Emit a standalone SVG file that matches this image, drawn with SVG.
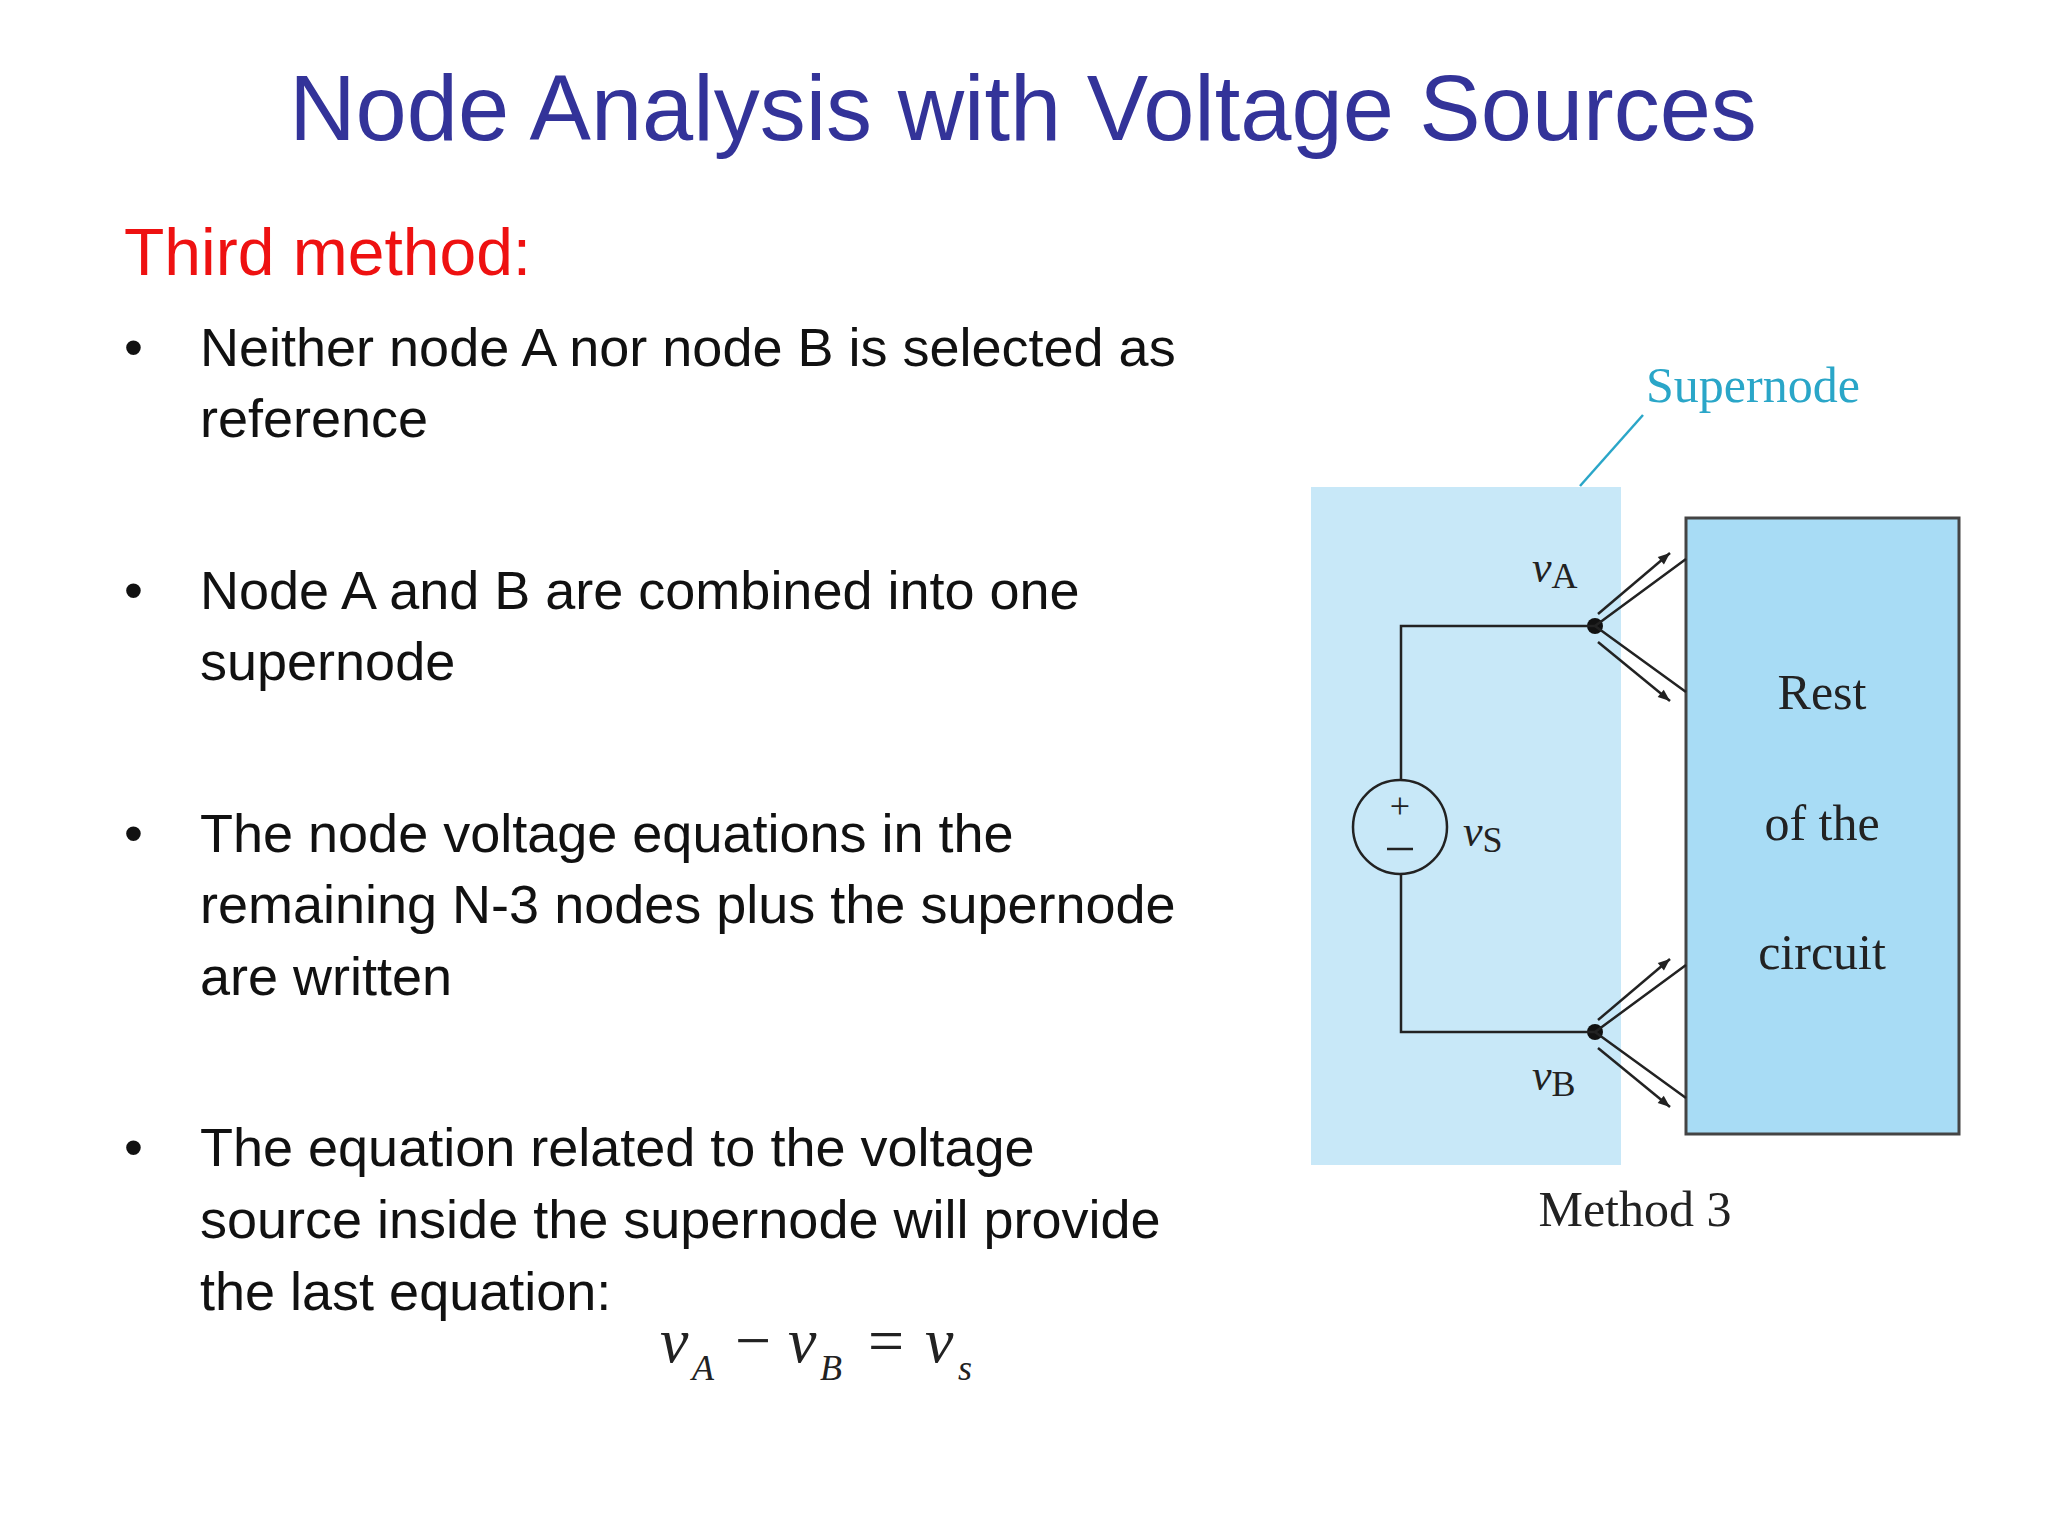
<svg xmlns="http://www.w3.org/2000/svg" width="2048" height="1536" viewBox="0 0 2048 1536">
<defs>
<marker id="ah" viewBox="0 0 10 10" refX="10" refY="5" markerWidth="18" markerHeight="12" markerUnits="userSpaceOnUse" orient="auto"><path d="M0,1 L10,5 L0,9 z" fill="#222"/></marker>
<style>
.s{font-family:"Liberation Sans",Arial,sans-serif;fill:#111;font-size:54px}
.t{font-family:"Liberation Serif","Times New Roman",serif;fill:#222}
.w{stroke:#222;stroke-width:2.5;fill:none}
.a{stroke:#222;stroke-width:2.5;marker-end:url(#ah)}
</style>
</defs>
<rect width="2048" height="1536" fill="#fff"/>
<text x="1023" y="140" text-anchor="middle" font-family="Liberation Sans,Arial,sans-serif" font-size="92" fill="#333399">Node Analysis with Voltage Sources</text>
<text x="124" y="275" font-family="Liberation Sans,Arial,sans-serif" font-size="66" fill="#ee1111">Third method:</text>
<g class="s">
<text x="124" y="366">•</text><text x="200" y="366">Neither node A nor node B is selected as</text><text x="200" y="437">reference</text>
<text x="124" y="609">•</text><text x="200" y="609">Node A and B are combined into one</text><text x="200" y="680">supernode</text>
<text x="124" y="852">•</text><text x="200" y="852">The node voltage equations in the</text><text x="200" y="923">remaining N-3 nodes plus the supernode</text><text x="200" y="995">are written</text>
<text x="124" y="1166">•</text><text x="200" y="1166">The equation related to the voltage</text><text x="200" y="1238">source inside the supernode will provide</text><text x="200" y="1310">the last equation:</text>
</g>
<g class="t" font-size="64" font-style="italic">
<text x="660" y="1362">v</text><text x="692" y="1380" font-size="36">A</text>
<text x="735" y="1362" font-style="normal">−</text>
<text x="788" y="1362">v</text><text x="820" y="1380" font-size="36">B</text>
<text x="868" y="1362" font-style="normal">=</text>
<text x="925" y="1362">v</text><text x="958" y="1380" font-size="36">s</text>
</g>
<g id="supernode">
<rect x="1311" y="487" width="310" height="678" fill="#c8e8f8"/>
<line x1="1643" y1="415" x2="1580" y2="486" stroke="#2aa6c8" stroke-width="2.5"/>
<text x="1646" y="402" class="t" font-size="50" style="fill:#2aa6c8">Supernode</text>
</g>
<g id="rest">
<rect x="1686" y="518" width="273" height="616" fill="#a8dcf5" stroke="#444" stroke-width="3"/>
<g class="t" font-size="50" text-anchor="middle"><text x="1822" y="709">Rest</text><text x="1822" y="840">of the</text><text x="1822" y="969">circuit</text></g>
</g>
<g id="source">
<circle cx="1400" cy="827" r="47" fill="none" stroke="#222" stroke-width="2.5"/>
<text x="1400" y="818" class="t" font-size="36" text-anchor="middle">+</text>
<line x1="1387" y1="849" x2="1413" y2="849" stroke="#222" stroke-width="2.5"/>
<text x="1463" y="846" class="t" font-size="44"><tspan font-style="italic">v</tspan><tspan font-size="36" dy="6">S</tspan></text>
</g>
<g id="nodeA"><circle cx="1595" cy="626" r="8" fill="#111"/><text x="1532" y="582" class="t" font-size="44"><tspan font-style="italic">v</tspan><tspan font-size="36" dy="6">A</tspan></text></g>
<g id="nodeB"><circle cx="1595" cy="1032" r="8" fill="#111"/><text x="1532" y="1090" class="t" font-size="44"><tspan font-style="italic">v</tspan><tspan font-size="36" dy="6">B</tspan></text></g>
<g id="connectors">
<path class="w" d="M1595,626 H1401 V780 M1401,874 V1032 H1595"/>
<path class="w" d="M1595,626 L1686,559 M1595,626 L1686,692 M1595,1032 L1686,965 M1595,1032 L1686,1098"/>
<line class="a" x1="1598" y1="614" x2="1670" y2="553"/>
<line class="a" x1="1598" y1="642" x2="1670" y2="701"/>
<line class="a" x1="1598" y1="1020" x2="1670" y2="959"/>
<line class="a" x1="1598" y1="1048" x2="1670" y2="1107"/>
</g>
<text x="1635" y="1226" class="t" font-size="50" text-anchor="middle" fill="#444">Method 3</text>
</svg>
